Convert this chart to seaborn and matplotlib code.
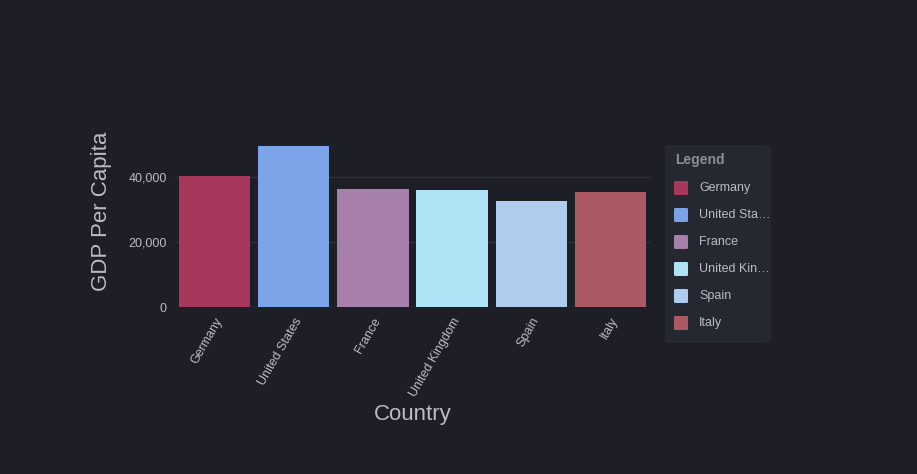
import matplotlib
matplotlib.use("Agg")
import matplotlib.pyplot as plt
import seaborn as sns
import pandas as pd
from matplotlib.patches import FancyBboxPatch

countries = ["Germany", "United States", "France", "United Kingdom", "Spain", "Italy"]
legend_labels = ["Germany", "United Sta…", "France", "United Kin…", "Spain", "Italy"]
gdp = [40300, 49500, 36300, 36000, 32600, 35400]
colors = ["#a8375e", "#7ba3e8", "#a67fab", "#aee3f5", "#aecdee", "#ab5a63"]

bg = "#1e1f26"
df = pd.DataFrame({"Country": countries, "GDP": gdp})

sns.set_theme(style="dark")
plt.rcParams['font.family'] = ['Liberation Sans', 'DejaVu Sans']
fig = plt.figure(figsize=(9.17, 4.74), dpi=100, facecolor=bg)
ax = fig.add_axes([175/917, 1-307/474, (650-175)/917, (307-115)/474])
ax.set_facecolor(bg)
sns.barplot(data=df, x="Country", y="GDP", hue="Country", palette=colors,
            legend=False, ax=ax, width=0.9, saturation=1)
for p in ax.patches:
    p.set_edgecolor("none")
ax.set_ylim(0, 59000)
ax.set_yticks([0, 20000, 40000])
ax.set_yticklabels(["0", "20,000", "40,000"], color="#b8bcc8", fontsize=9)
ax.grid(axis="y", color="#2e303a", linewidth=1)
ax.set_axisbelow(True)
ax.set_xticks(range(len(countries)))
ax.set_xticklabels(countries, rotation=60, ha="right", rotation_mode="anchor",
                   color="#b8bcc8", fontsize=9)
ax.tick_params(length=0, pad=6)
for s in ax.spines.values():
    s.set_visible(False)
ax.set_xlabel("Country", color="#b8bcc8", fontsize=16, labelpad=4)
ax.set_ylabel("GDP Per Capita", color="#b8bcc8", fontsize=16, labelpad=12)

lx0, ly0, lw, lh = 665/917, 1-343/474, 106/917, (343-145)/474
fig.patches.append(FancyBboxPatch((lx0, ly0), lw, lh, boxstyle="round,pad=0,rounding_size=0.004",
                                  transform=fig.transFigure, facecolor="#262831", edgecolor="none"))
fig.text(675/917, 1-160/474, "Legend", color="#8a8d98", fontsize=10, fontweight="bold", va="center")
for i, (lab, c) in enumerate(zip(legend_labels, colors)):
    y = 188 + i*27
    fig.patches.append(FancyBboxPatch((674/917, 1-(y+7)/474), 14/917, 14/474,
                                      boxstyle="round,pad=0,rounding_size=0.002",
                                      transform=fig.transFigure, facecolor=c, edgecolor="none"))
    fig.text(699/917, 1-y/474, lab, color="#b8bcc8", fontsize=9, va="center")

fig.savefig("out.png", facecolor=bg)
